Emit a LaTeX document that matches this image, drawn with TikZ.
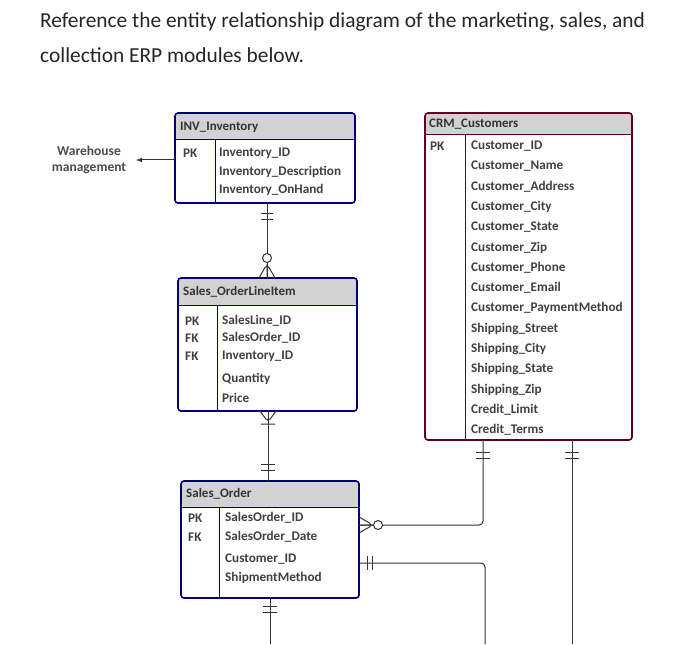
\documentclass[tikz,border=0pt]{standalone}
\usepackage{fontspec}
\setmainfont{Carlito}
\begin{document}
\begin{tikzpicture}[x=1pt,y=-1pt,
  ent/.style={draw=blue!45!black,line width=1.6pt,rounded corners=3pt},
  hdr/.style={fill=gray!35},
  fld/.style={anchor=west,inner sep=0pt,font=\fontsize{13.2}{15}\selectfont\bfseries,text=black!75},
  ttl/.style={anchor=west,inner sep=0pt,font=\fontsize{13}{15}\selectfont\bfseries,text=black!80},
  con/.style={line width=1pt,black!80,rounded corners=4pt}]
\useasboundingbox (0,0) rectangle (700,644);
\fill[white] (0,0) rectangle (700,644);
\node[anchor=west,inner sep=0pt,font=\fontsize{21.4}{24}\selectfont,text=black!85] (t1) at (40,22) {Reference the entity relationship diagram of the marketing, sales, and};
\node[anchor=west,inner sep=0pt,font=\fontsize{21.4}{24}\selectfont,text=black!85] (t2) at (40,55) {collection ERP modules below.};
% INV_Inventory
\fill[hdr,rounded corners=3pt] (175,113) rectangle (355,140);
\draw[ent] (175,113) rectangle (355,203);
\draw[line width=1pt,blue!45!black] (175,140)--(355,140) (215,140)--(215,203);
\node[ttl] (inv) at (180,127) {INV\_Inventory};
\node[fld] at (183,153) {PK};
\node[fld] at (219,153) {Inventory\_ID};
\node[fld] at (219,172) {Inventory\_Description};
\node[fld] at (219,190) {Inventory\_OnHand};
\coordinate (invL) at (175,160); \coordinate (invB) at (267,203);
\node[align=center,font=\fontsize{13.5}{16}\selectfont\bfseries,text=black!70] (wh) at (89,160) {Warehouse\\management};
\draw[con,-latex] (invL) -- (136,160);
% Sales_OrderLineItem
\fill[hdr,rounded corners=3pt] (178,278) rectangle (357,305);
\draw[ent] (178,278) rectangle (357,411);
\draw[line width=1pt,blue!45!black] (178,305)--(357,305) (217,305)--(217,411);
\node[ttl] at (183,292) {Sales\_OrderLineItem};
\foreach \k/\n/\y in {PK/SalesLine\_ID/321,FK/SalesOrder\_ID/338,FK/Inventory\_ID/356,/Quantity/379,/Price/398}{
  \node[fld] at (185,\y) {\k}; \node[fld] at (222,\y) {\n};}
\coordinate (soliT) at (267,278); \coordinate (soliB) at (268,411);
% Sales_Order
\fill[hdr,rounded corners=3pt] (181,481) rectangle (359,507);
\draw[ent] (181,481) rectangle (359,598);
\draw[line width=1pt,blue!45!black] (181,507)--(359,507) (219,507)--(219,598);
\node[ttl] at (186,494) {Sales\_Order};
\foreach \k/\n/\y in {PK/SalesOrder\_ID/518,FK/SalesOrder\_Date/537,/Customer\_ID/559,/ShipmentMethod/578}{
  \node[fld] at (188,\y) {\k}; \node[fld] at (225,\y) {\n};}
\coordinate (soT) at (268,481); \coordinate (soB) at (270,598);
\coordinate (soR1) at (359,525); \coordinate (soR2) at (359,563);
% CRM_Customers
\fill[hdr,rounded corners=3pt] (425,113) rectangle (632,135);
\draw[ent,draw=purple!50!black] (425,113) rectangle (632,440);
\draw[line width=1pt,purple!50!black] (425,135)--(632,135) (465,135)--(465,440);
\node[ttl] at (429,124) {CRM\_Customers};
\node[fld] at (430,146) {PK};
\foreach \n [count=\i from 0] in {Customer\_ID,Customer\_Name,Customer\_Address,Customer\_City,Customer\_State,Customer\_Zip,Customer\_Phone,Customer\_Email,Customer\_PaymentMethod,Shipping\_Street,Shipping\_City,Shipping\_State,Shipping\_Zip,Credit\_Limit,Credit\_Terms}
  \node[fld] at (471,146+20.3*\i) {\n};
\coordinate (crmB1) at (483,440); \coordinate (crmB2) at (572,440);
% connectors
\draw[con] (invB) -- (soliT);
\draw[con] (261,213)--(273,213) (261,219)--(273,219);
\draw[con,fill=white] (267,258) circle (4.5);
\draw[con] (259,278)--(267,264)--(275,278) (267,264)--(267,278);
\draw[con] (soliB) -- (soT);
\draw[con] (260,411)--(268,422)--(276,411) (261,424)--(275,424);
\draw[con] (261,464)--(275,464) (261,470)--(275,470);
\draw[con] (soB) -- (270,644);
\draw[con] (263,606)--(277,606) (263,612)--(277,612);
\draw[con] (crmB1) -- (483,525) -- (soR1);
\draw[con] (476,452)--(490,452) (476,458)--(490,458);
\draw[con,fill=white] (378,525) circle (4.5);
\draw[con] (359,517)--(373,525)--(359,533) (359,525)--(373,525);
\draw[con] (crmB2) -- (572,644);
\draw[con] (565,452)--(579,452) (565,458)--(579,458);
\draw[con] (soR2) -- (485,563) -- (485,644);
\draw[con] (367,556)--(367,570) (372,556)--(372,570);
\end{tikzpicture}
\end{document}
